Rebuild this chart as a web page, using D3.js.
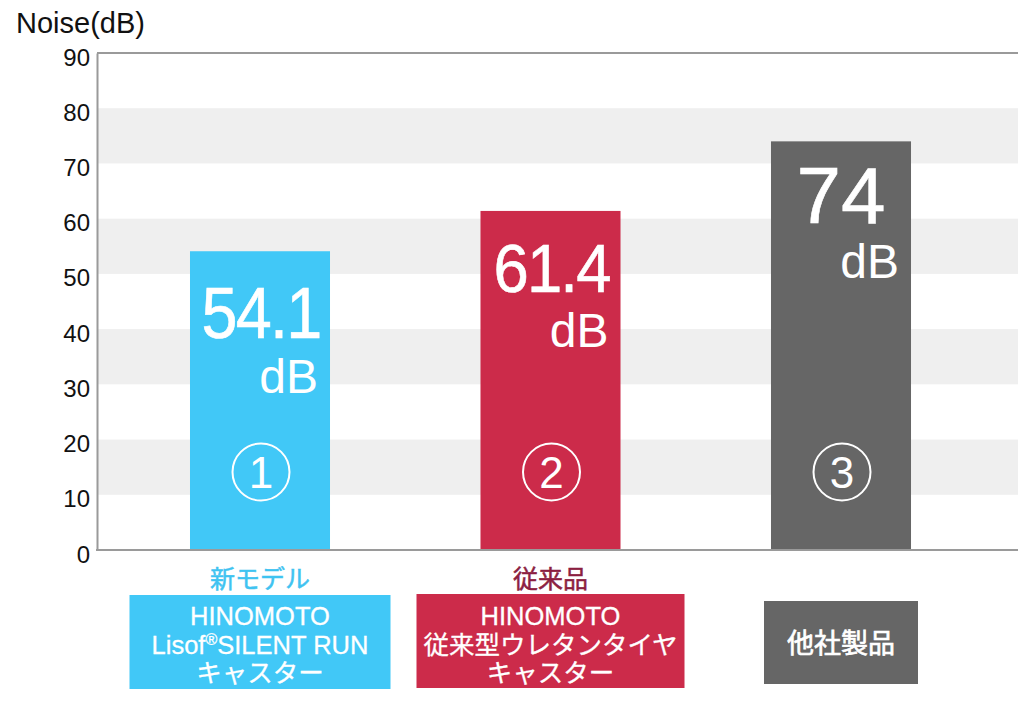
<!DOCTYPE html>
<html>
<head>
<meta charset="UTF-8">
<title>Noise</title>
<script src="https://cdn.jsdelivr.net/npm/d3@7"></script>
<style>
    body { margin: 0; background: #fff; }
    text { font-family: "Liberation Sans", Arial, "Noto Sans CJK JP", sans-serif; }
    .jp { font-family: "Liberation Sans", "Noto Sans CJK JP", sans-serif; }
</style>
</head>
<body>
<div id="chart"></div>
<script>
    // data
    const categories = ["new", "old", "other"];
    const values = [54.1, 61.4, 74];
    const valueLabels = ["54.1", "61.4", "74"];
    const circledNumbers = ["1", "2", "3"];
    const topLabels = ["新モデル", "従来品", ""];
    const boxLines = [
        ["HINOMOTO", "Lisof®SILENT RUN", "キャスター"],
        ["HINOMOTO", "従来型ウレタンタイヤ", "キャスター"],
        ["他社製品"]
    ];
    const yTicks = [0, 10, 20, 30, 40, 50, 60, 70, 80, 90];
    const stripes = [[10, 20], [30, 40], [50, 60], [70, 80]];

    // styles
    const barColors = ["#41c8f7", "#cc2b4a", "#666666"];
    const topLabelColors = ["#3fc3f1", "#8c1f41", "#666"];
    const valueFontSizes = [72, 69, 80];
    const valueSpacing = [-2, -2, 0];
    const valueSqueeze = [0.9, 0.92, 1];
    const valueOffsets = [87, 81, 82];
    const boxWidths = [261, 268, 154];
    const boxTops = [595, 594, 601];
    const boxHeights = [94, 94, 83];

    const width = 1024, height = 707;
    const plotLeft = 97, plotRight = 1018, plotTop = 53, plotBottom = 550;

    const svg = d3.select("#chart").append("svg")
        .attr("width", width)
        .attr("height", height);

    const y = d3.scaleLinear().domain([0, 90]).range([plotBottom, plotTop]);
    const x = d3.scaleBand().domain(categories)
        .range([114.75, 986.25])
        .paddingInner(0.518)
        .paddingOuter(0.259);

    // grey stripes
    svg.selectAll("rect.stripe")
        .data(stripes)
        .enter().append("rect")
        .attr("class", "stripe")
        .attr("x", plotLeft + 1)
        .attr("y", d => y(d[1]))
        .attr("width", plotRight - plotLeft - 1)
        .attr("height", d => y(d[0]) - y(d[1]))
        .attr("fill", "#efefef");

    // top frame line
    svg.append("line").attr("x1", plotLeft).attr("x2", plotRight).attr("y1", y(90)).attr("y2", y(90))
        .attr("stroke", "#9a9a9a").attr("stroke-width", 2);

    // y axis
    const yAxis = d3.axisLeft(y).tickValues(yTicks).tickSize(0).tickPadding(7);
    const gy = svg.append("g").attr("transform", `translate(${plotLeft},0)`).call(yAxis);
    gy.select(".domain").attr("stroke", "#9a9a9a").attr("stroke-width", 2);
    gy.selectAll("text")
        .attr("font-size", 24)
        .attr("fill", "#111")
        .attr("dy", "0.5em")
        .style("font-family", "'Liberation Sans', Arial, sans-serif");

    svg.append("text")
        .attr("x", 16).attr("y", 33)
        .attr("font-size", 29)
        .attr("fill", "#111")
        .text("Noise(dB)");

    // bars
    svg.selectAll("rect.bar")
        .data(values)
        .enter().append("rect")
        .attr("class", "bar")
        .attr("x", (d, i) => x(categories[i]))
        .attr("y", d => y(d))
        .attr("width", x.bandwidth())
        .attr("height", d => y(0) - y(d))
        .attr("fill", (d, i) => barColors[i]);

    svg.append("line").attr("x1", plotLeft - 1).attr("x2", plotRight).attr("y1", y(0)).attr("y2", y(0))
        .attr("stroke", "#9a9a9a").attr("stroke-width", 2);

    // value labels (squeezed horizontally a bit, the original font is narrow)
    svg.selectAll("text.val")
        .data(values)
        .enter().append("text")
        .attr("class", "val")
        .attr("transform", (d, i) =>
            `translate(${x(categories[i]) + x.bandwidth() / 2 - valueSpacing[i] / 2},${y(d) + valueOffsets[i]}) scale(${valueSqueeze[i]},1)`)
        .attr("text-anchor", "middle")
        .attr("font-size", (d, i) => valueFontSizes[i])
        .attr("letter-spacing", (d, i) => valueSpacing[i])
        .attr("fill", "#fff")
        .attr("stroke", "#fff")
        .attr("stroke-width", 0.6)
        .text((d, i) => valueLabels[i]);

    svg.selectAll("text.unit")
        .data(values)
        .enter().append("text")
        .attr("class", "unit")
        .attr("x", (d, i) => x(categories[i]) + x.bandwidth() - 12)
        .attr("y", (d, i) => y(d) + valueOffsets[i] + 55)
        .attr("text-anchor", "end")
        .attr("font-size", 48)
        .attr("fill", "#fff")
        .text("dB");

    // circled numbers
    const circles = svg.selectAll("g.num")
        .data(circledNumbers)
        .enter().append("g")
        .attr("class", "num")
        .attr("transform", (d, i) => `translate(${x(categories[i]) + x.bandwidth() / 2 + 1},472)`);
    circles.append("circle")
        .attr("r", 28.5)
        .attr("fill", "none")
        .attr("stroke", "#fff")
        .attr("stroke-width", 2);
    circles.append("text")
        .attr("text-anchor", "middle")
        .attr("dy", "0.36em")
        .attr("font-size", 44)
        .attr("fill", "#fff")
        .text(d => d);

    // category labels
    svg.selectAll("text.toplabel")
        .data(topLabels)
        .enter().append("text")
        .attr("class", "toplabel jp")
        .attr("x", (d, i) => x(categories[i]) + x.bandwidth() / 2)
        .attr("y", 588)
        .attr("text-anchor", "middle")
        .attr("font-size", 25)
        .attr("fill", (d, i) => topLabelColors[i])
        .attr("stroke", (d, i) => topLabelColors[i])
        .attr("stroke-width", 0.5)
        .text(d => d);

    // boxes under the axis
    const boxes = svg.selectAll("g.box")
        .data(boxLines)
        .enter().append("g")
        .attr("class", "box")
        .attr("transform", (d, i) => `translate(${x(categories[i]) + x.bandwidth() / 2},0)`);
    boxes.append("rect")
        .attr("x", (d, i) => -boxWidths[i] / 2)
        .attr("y", (d, i) => boxTops[i])
        .attr("width", (d, i) => boxWidths[i])
        .attr("height", (d, i) => boxHeights[i])
        .attr("fill", (d, i) => barColors[i]);

    boxes.each(function(lines, i) {
        const g = d3.select(this);
        const single = lines.length === 1;
        lines.forEach((line, j) => {
            const t = g.append("text")
                .attr("class", "jp")
                .attr("text-anchor", "middle")
                .attr("y", single ? 653 : 625 + j * 28.5)
                .attr("font-size", single ? 27 : 25.5)
                .attr("fill", "#fff")
                .attr("stroke", "#fff")
                .attr("stroke-width", single ? 0.7 : 0.3);
            if (line.indexOf("®") >= 0) {
                const parts = line.split("®");
                t.append("tspan").text(parts[0]);
                t.append("tspan").attr("font-size", 16).attr("dy", -9).text("®");
                t.append("tspan").attr("dy", 9).text(parts[1]);
            } else {
                t.text(line);
            }
        });
    });
</script>
</body>
</html>
